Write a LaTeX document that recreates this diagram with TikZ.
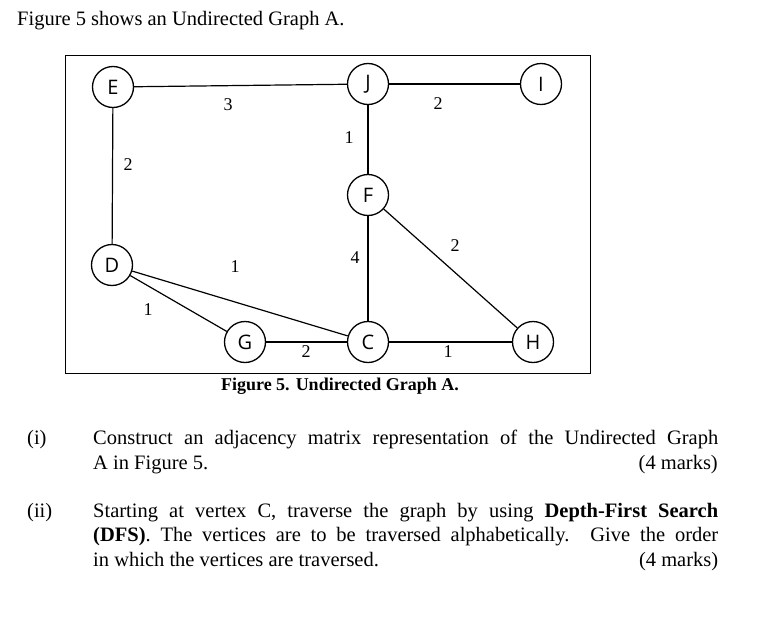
\documentclass[tikz,border=0pt]{standalone}
\usepackage{fontspec}
\setmainfont{Liberation Serif}
\newfontfamily\nodefont{Open Sans}
\begin{document}
\begin{tikzpicture}[x=1pt,y=-1pt,
  v/.style={circle,draw,line width=1.3pt,minimum size=41pt,inner sep=0pt,font=\nodefont\fontsize{20}{20}\selectfont},
  e/.style={line width=1.2pt},
  w/.style={font=\fontsize{18}{18}\selectfont,inner sep=0pt},
  ln/.style={font=\fontsize{20.5}{24.5}\selectfont,inner sep=0pt,anchor=base west}]
\useasboundingbox (0,0) rectangle (768,618);
\draw[line width=0.8pt] (65,55) rectangle (590,373);
\node[v] (E) at (113,87) {E};
\node[v] (J) at (368,84) {J};
\node[v] (I) at (541,84) {I};
\node[v] (F) at (368,195) {F};
\node[v] (D) at (112,265) {D};
\node[v] (G) at (245,342) {G};
\node[v] (C) at (368,342) {C};
\node[v] (H) at (533,342) {H};
\draw[e] (E)--(J); \draw[e] (J)--(I); \draw[e] (J)--(F); \draw[e] (E)--(D);
\draw[e] (F)--(C); \draw[e] (F)--(H); \draw[e] (D)--(C); \draw[e] (D)--(G);
\draw[e] (G)--(C); \draw[e] (C)--(H);
\node[w] at (228,105) {3}; \node[w] at (438,104) {2}; \node[w] at (349,138) {1};
\node[w] at (128,165) {2}; \node[w] at (355,258) {4}; \node[w] at (455,246) {2};
\node[w] at (235,267) {1}; \node[w] at (148,310) {1}; \node[w] at (306,352) {2};
\node[w] at (448,352) {1};
\node[ln] (t) at (17,26) {Figure 5 shows an Undirected Graph A.};
\node[font=\bfseries\fontsize{18}{20}\selectfont,inner sep=0pt] (cap) at (340,386) {Figure 5. Undirected Graph A.};
\node[ln] (i) at (27,444) {(i)};
\node[ln] (p1a) at (93,444) {\makebox[625pt][s]{Construct an adjacency matrix representation of the Undirected Graph}};
\node[ln] (p1b) at (93,469) {A in Figure 5.};
\node[ln,anchor=base east] (m1) at (718,469) {(4 marks)};
\node[ln] (ii) at (27,517) {(ii)};
\node[ln,text width=625pt,align=justify] (p2) at (93,517) {\setlength{\parfillskip}{0pt plus 1fil}Starting at vertex C, traverse the graph by using \textbf{Depth-First Search} \textbf{(DFS)}. The vertices are to be traversed alphabetically. Give the order\linebreak in which the vertices are traversed.\hfill(4 marks)};
\end{tikzpicture}
\end{document}
